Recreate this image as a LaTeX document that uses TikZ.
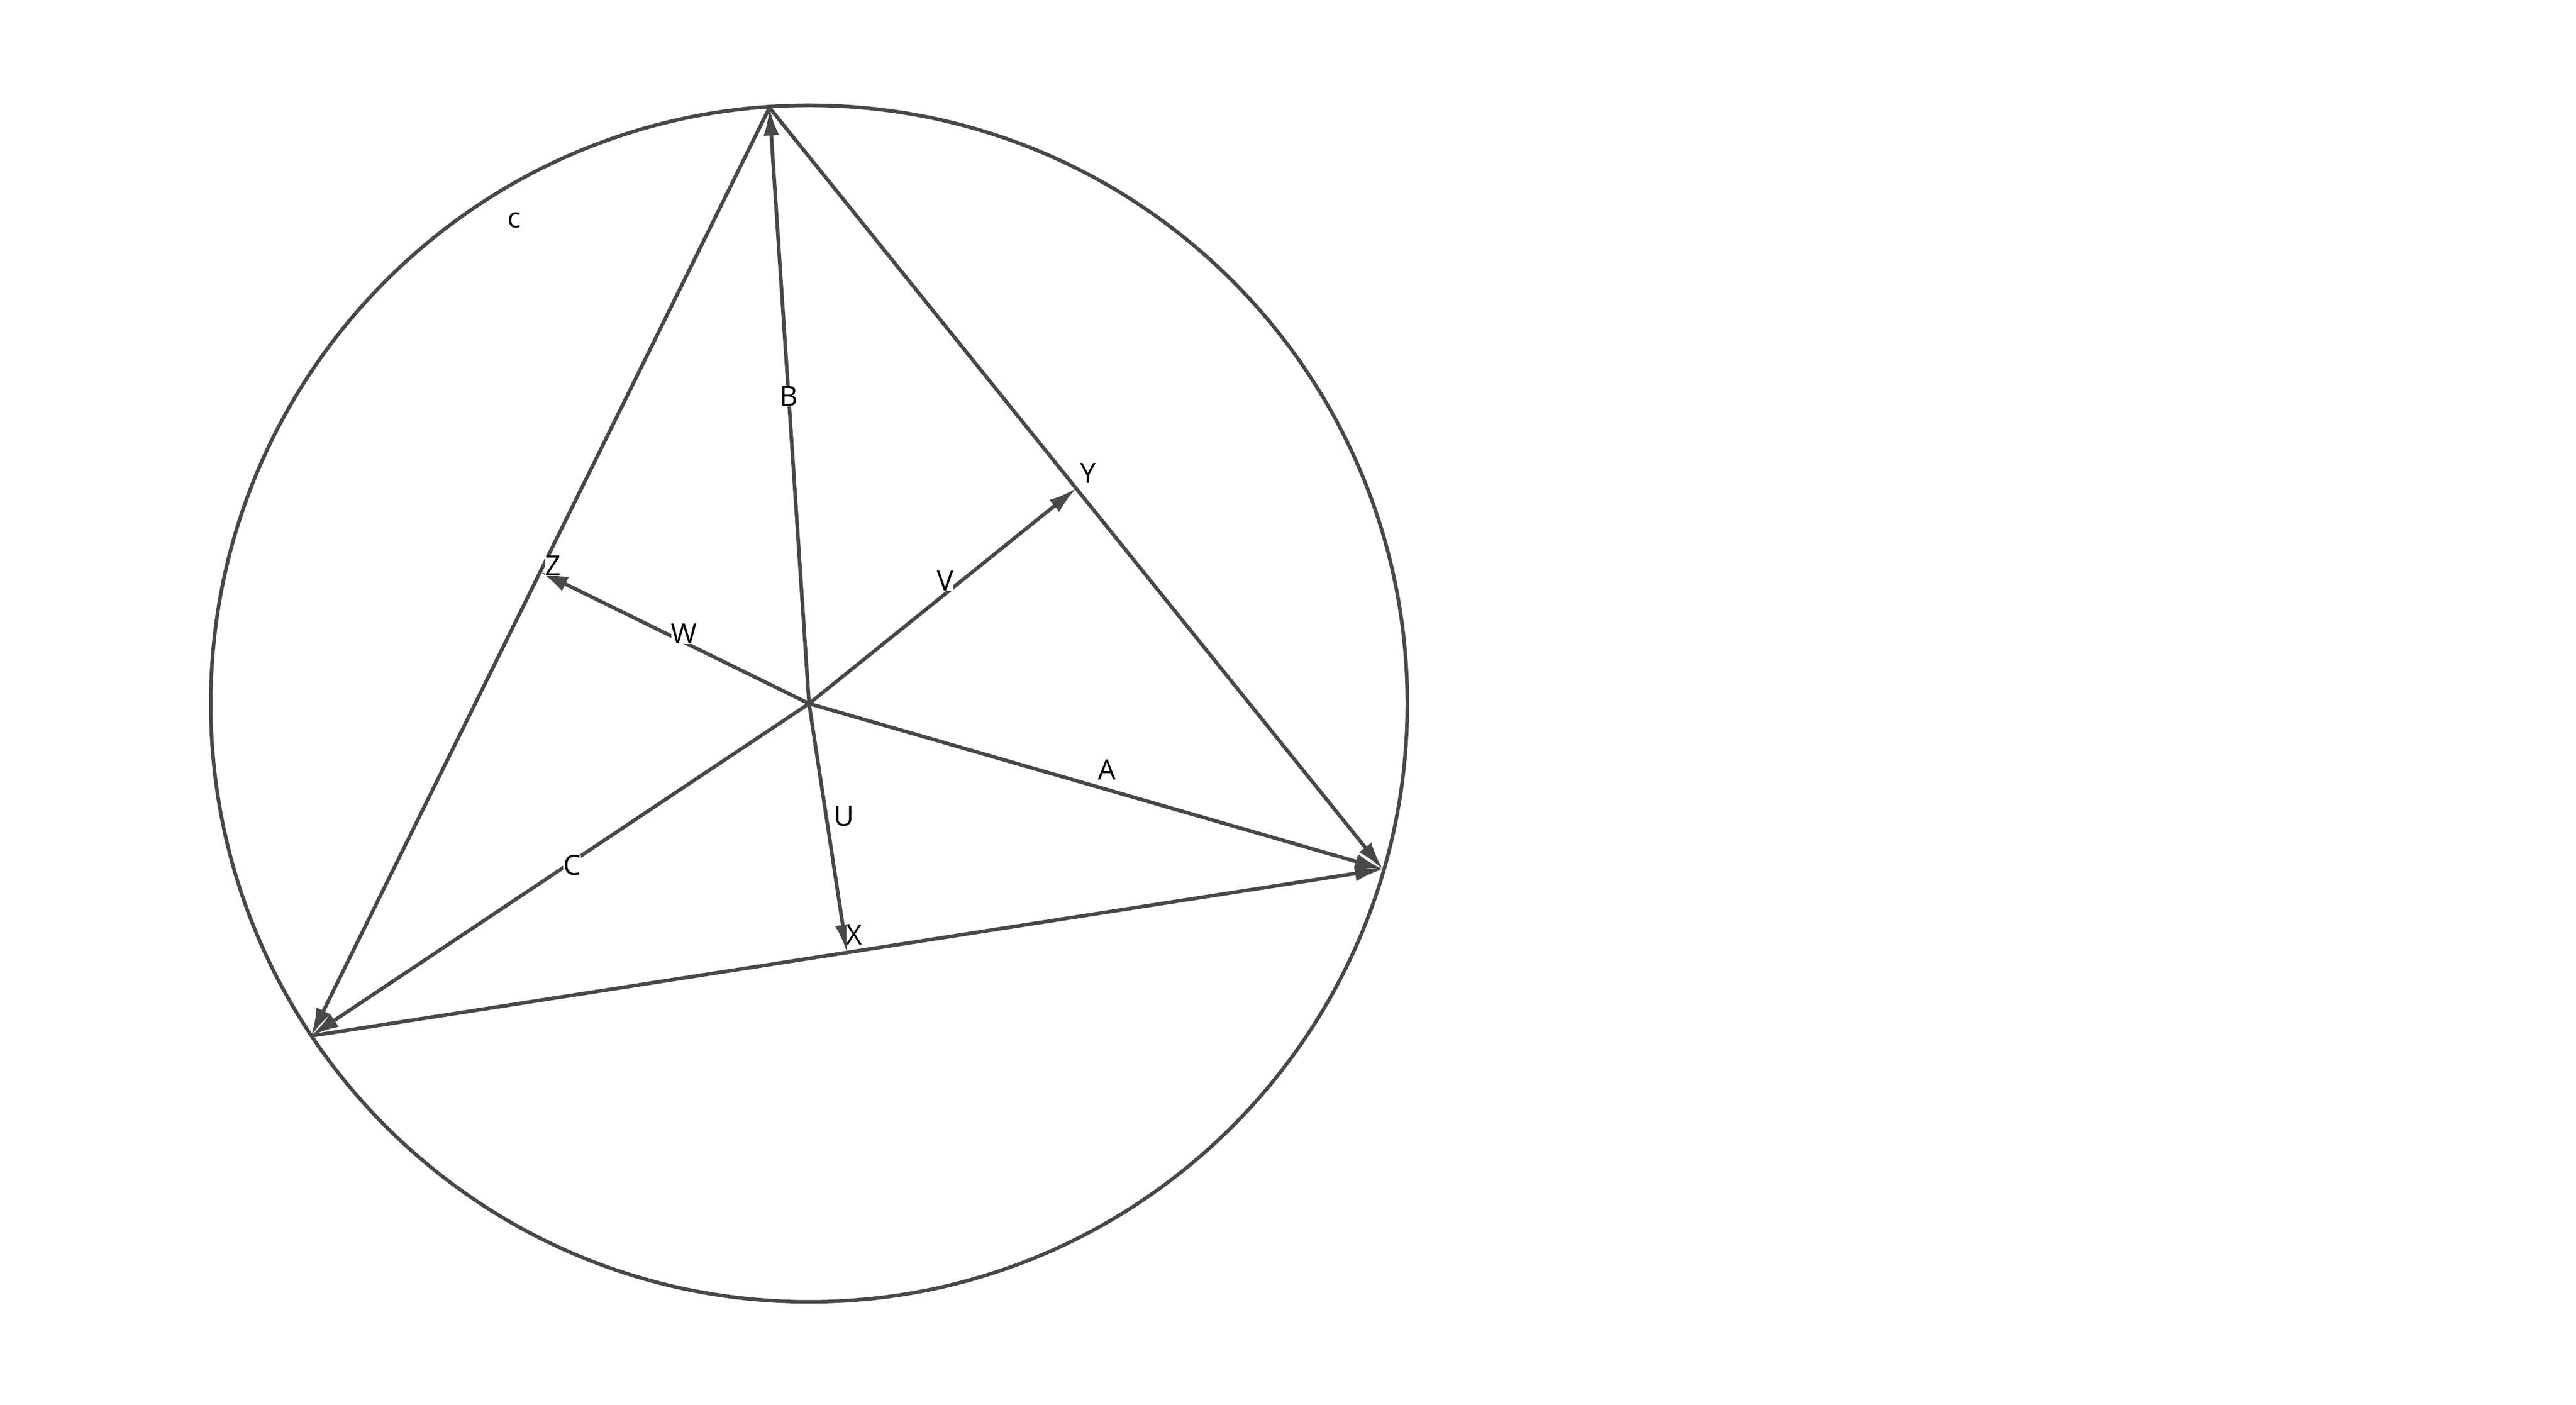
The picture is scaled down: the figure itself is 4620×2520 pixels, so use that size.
\documentclass[tikz,border=0pt]{standalone}
\usepackage{fontspec}
\setmainfont{Open Sans}
\usetikzlibrary{arrows.meta}
\definecolor{ink}{RGB}{72,72,72}
\begin{document}
\begin{tikzpicture}[x=0.1pt,y=-0.1pt,
  edge/.style={draw=ink,line width=0.65pt,-{Latex[length=5pt,width=2.8pt]}},
  ring/.style={draw=ink,line width=0.65pt},
  lbl/.style={font=\fontsize{5}{6}\selectfont, inner sep=0pt, fill=white, text=black}]
\useasboundingbox (0,0) rectangle (4620,2520);
\coordinate (O) at (1451,1262);
\coordinate (T) at (1380,193);
\coordinate (L) at (558,1858);
\coordinate (R) at (2480,1559);
\draw[ring] (O) circle[radius=1073];
% triangle sides
\draw[edge] (T) -- (R);
\draw[edge] (T) -- (L);
\draw[edge] (L) -- (R);
\path (L) -- (R) coordinate[pos=0.5] (X);
\path (T) -- (R) coordinate[pos=0.5] (Y);
\path (T) -- (L) coordinate[pos=0.5] (Z);
% radii
\draw[edge] (O) -- (T);
\draw[edge] (O) -- (R);
\draw[edge] (O) -- (L);
% perpendiculars
\draw[edge] (O) -- (X);
\draw[edge] (O) -- (Y);
\draw[edge] (O) -- (Z);
% labels
\node[lbl] (lc) at (922,395) {c};
\node[lbl] (lB) at (1415,711) {B};
\node[lbl] (lY) at (1951,849) {Y};
\node[lbl] (lV) at (1695,1042) {V};
\node[lbl] (lZ) at (992,1015) {Z};
\node[lbl] (lW) at (1227,1137) {W};
\node[lbl] (lA) at (1985,1381) {A};
\node[lbl] (lU) at (1514,1464) {U};
\node[lbl] (lC) at (1026,1552) {C};
\node[lbl] (lX) at (1532,1677) {X};
\end{tikzpicture}
\end{document}
